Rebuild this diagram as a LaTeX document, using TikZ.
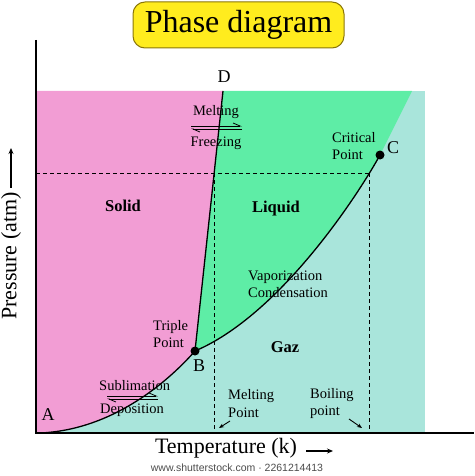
\documentclass[tikz,border=0pt]{standalone}
\usepackage{fontspec}
\setmainfont{Liberation Serif}
\setsansfont{Liberation Sans}
\usetikzlibrary{arrows.meta}
\definecolor{solidpink}{HTML}{F29DD4}
\definecolor{liquidgreen}{HTML}{5EEDA6}
\definecolor{gazteal}{HTML}{A9E5DB}
\definecolor{titleyellow}{HTML}{FFEC1E}
\definecolor{titleedge}{HTML}{8A7608}
\begin{document}
\begin{tikzpicture}[x=1pt,y=-1pt,
    lbl/.style={font=\fontsize{14.5}{17.5}\selectfont,align=left,inner sep=0pt},
    phase/.style={font=\fontsize{16.5}{19}\selectfont\bfseries,inner sep=0pt},
    letter/.style={font=\fontsize{18}{20}\selectfont,inner sep=0pt},
    axislbl/.style={font=\fontsize{22}{24}\selectfont,inner sep=0pt},
    harpoon/.style={line width=0.8pt,-{Straight Barb[left,length=7pt,width=6pt]}},
    hint/.style={line width=0.9pt,-{Stealth[length=5pt,width=4pt]}}]
    \useasboundingbox (0,0) rectangle (474,476);
    \coordinate (A) at (40,433);
    \coordinate (B) at (195,351);
    \coordinate (C) at (380,155);
    \coordinate (Dtop) at (223,91);
    \coordinate (Ctop) at (412,91);
    % Phases
    \fill[gazteal] (36,91) rectangle (425,433);
    \fill[liquidgreen] (Dtop) -- (Ctop) -- (C) .. controls (358,195) and (280,315) .. (B) -- cycle;
    \fill[solidpink] (36,91) -- (Dtop) -- (B) .. controls (165,385) and (110,430) .. (A) -- (36,433) -- cycle;
    % Dashed guides
    \coordinate (P1) at (36,173);
    \coordinate (M1) at (214,173);
    \coordinate (M2) at (214,433);
    \coordinate (K1) at (369,173);
    \coordinate (K2) at (369,433);
    \draw[line width=0.8pt,dashed,dash pattern=on 4pt off 3pt] (P1) -- (K1);
    \draw[line width=0.8pt,dashed,dash pattern=on 4pt off 3pt] (M1) -- (M2);
    \draw[line width=0.8pt,dashed,dash pattern=on 4pt off 3pt] (K1) -- (K2);
    % Curves
    \draw[line width=1.3pt,black] (A) .. controls (110,430) and (165,385) .. (B);
    \draw[line width=1.3pt,black] (B) .. controls (280,315) and (358,195) .. (C);
    \draw[line width=1.3pt,black] (B) -- (Dtop);
    \fill[black] (B) circle (4.5);
    \fill[black] (C) circle (4.5);
    % Axes
    \draw[line width=1.5pt,black] (36,40) -- (36,433) -- (474,433);
    % Title
    \node[draw=titleedge,line width=1pt,fill=titleyellow,rounded corners=12pt,
          minimum width=211pt,minimum height=46pt,
          font=\fontsize{32}{34}\selectfont] (title) at (238.5,25) {Phase diagram};
    % Points
    \node[letter] (labA) at (48,415) {A};
    \node[letter] (labB) at (199,366) {B};
    \node[letter] (labC) at (393,148) {C};
    \node[letter] (labD) at (224,77) {D};
    % Phase names
    \node[phase] (solid) at (123,206) {Solid};
    \node[phase] (liquid) at (276,209) {Liquid};
    \node[phase] (gaz) at (285,347) {Gaz};
    % Labels
    \node[lbl] (melt) at (216,112) {Melting};
    \node[lbl] (freeze) at (216,143) {Freezing};
    \coordinate (mf1) at (191,126);
    \coordinate (mf2) at (242,126);
    \coordinate (mf3) at (242,129);
    \coordinate (mf4) at (191,129);
    \draw[harpoon] (mf1) -- (mf2);
    \draw[harpoon] (mf3) -- (mf4);
    \node[lbl,anchor=west] (subl) at (99,386) {Sublimation};
    \node[lbl,anchor=west] (depo) at (100,410) {Deposition};
    \coordinate (sd1) at (107,396);
    \coordinate (sd2) at (158,396);
    \coordinate (sd3) at (158,399);
    \coordinate (sd4) at (107,399);
    \draw[harpoon] (sd1) -- (sd2);
    \draw[harpoon] (sd3) -- (sd4);
    \node[lbl,anchor=west] (triple) at (153,334) {Triple\\Point};
    \node[lbl,anchor=west] (crit) at (332,146) {Critical\\Point};
    \node[lbl,anchor=west] (vap) at (248,284.5) {Vaporization\\Condensation};
    \node[lbl,anchor=west] (meltpt) at (228,403.5) {Melting\\Point};
    \node[lbl,anchor=west] (boilpt) at (310,403.5) {Boiling\\point};
    \coordinate (ma1) at (230,421);
    \coordinate (ma2) at (219,428);
    \coordinate (ba1) at (349,419);
    \coordinate (ba2) at (362,428);
    \draw[hint] (ma1) -- (ma2);
    \draw[hint] (ba1) -- (ba2);
    % Axis titles
    \node[axislbl] (temp) at (226,448) {Temperature (k)};
    \coordinate (tarr) at (333,451);
    \draw[line width=1.2pt,-{Stealth[length=6pt,width=5pt]}] ([xshift=9pt,yshift=-3pt]temp.east) -- (tarr);
    \node[axislbl,rotate=90] (pres) at (11,256) {Pressure (atm)};
    \coordinate (parr) at (11,148);
    \draw[line width=1.2pt,-{Stealth[length=6pt,width=5pt]}] ([yshift=4pt]pres.east) -- (parr);
    % Credit
    \node[font=\sffamily\fontsize{10.5}{12}\selectfont,text=black!70] (credit) at (237,468) {www.shutterstock.com · 2261214413};
\end{tikzpicture}
\end{document}
